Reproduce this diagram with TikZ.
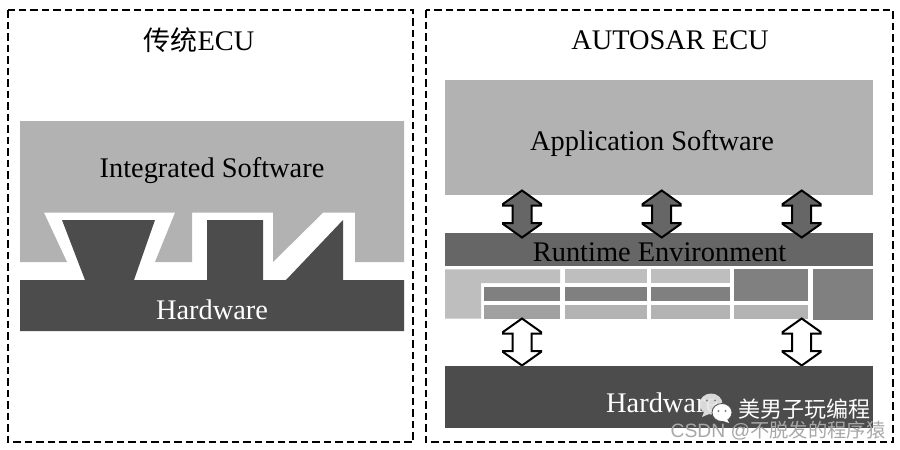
\documentclass[tikz,border=0pt]{standalone}
\usepackage{fontspec}
\setmainfont{Liberation Serif}
\newfontfamily\cjk{Noto Sans CJK SC}
\newfontfamily\wsans{Liberation Sans}
\definecolor{lightg}{HTML}{B2B2B2}
\definecolor{darkg}{HTML}{4C4C4C}
\definecolor{midg}{HTML}{666666}
\definecolor{rowa}{HTML}{BEBEBE}
\definecolor{rowb}{HTML}{808080}
\definecolor{rowc}{HTML}{B3B3B3}
\definecolor{rowd}{HTML}{A0A0A0}
\definecolor{wmk}{HTML}{A8A8A8}
\tikzset{
  x=1pt,y=-1pt,
  panel/.style={draw=black,line width=1.8pt,dash pattern=on 7.5pt off 4pt},
  lbl/.style={inner sep=0pt,font=\fontsize{28.4}{30}\selectfont},
  boxa/.style={fill=rowa,draw=none},
  boxb/.style={fill=rowb,draw=none},
  boxc/.style={fill=rowc,draw=none},
  boxd/.style={fill=rowd,draw=none},
  blockarrow/.style={draw=black,line width=2pt,line join=miter,miter limit=10},
}
\newcommand{\dblarrow}[4]{% x centre, top tip, bottom tip, fill
  \draw[blockarrow,fill=#4] (#1,#2+0.5) -- ++(19,13.5) -- ++(0,1.5) -- ++(-9.5,0)
    -- (#1+9.5,#3-15) -- ++(9.5,0) -- ++(0,1) -- (#1,#3-0.5) -- (#1-19,#3-14) -- ++(0,-1) -- ++(9.5,0)
    -- (#1-9.5,#2+15.5) -- ++(-9.5,0) -- ++(0,-1.5) -- cycle;}
\newcommand{\rbox}[5]{\fill[#5] (#1,#2) rectangle (#3,#4);}
\begin{document}
\begin{tikzpicture}
\useasboundingbox (0,0) rectangle (900,450);
\fill[white] (0,0) rectangle (900,450);
% panels
\draw[panel] (8,10) rectangle (413,442);
\draw[panel] (426,10) rectangle (893,442);
% left
\fill[lightg] (20,121) -- (404,121) -- (404,262) -- (355,262) -- (355,212.7) -- (323,212.7)
  -- (273,262) -- (273,212.7) -- (192,212.7) -- (192,262) -- (155,262) -- (175,212.7)
  -- (44,212.7) -- (67,262) -- (20,262) -- cycle;
\fill[darkg] (20,280) -- (85,280) -- (62,220) -- (155,220) -- (134,280) -- (207,280)
  -- (207,220) -- (263,220) -- (263,280) -- (286,280) -- (343,220) -- (343,280)
  -- (404,280) -- (404,331) -- (20,331) -- cycle;
\node[lbl] (title1) at (199,40.5) {{\cjk\fontsize{27}{30}\selectfont 传统}ECU};
\node[lbl] (sw1) at (212,171) {Integrated Software};
\node[lbl,text=white] (hw1) at (212,309.5) {Hardware};
% right
\node[lbl] (title2) at (670,40) {AUTOSAR ECU};
\fill[lightg] (445,80) rectangle (873,195);
\node[lbl] (app) at (652,144) {Application Software};
\fill[midg] (445,233) rectangle (873,266);
% grid
\fill[rowa] (445,269.3) -- (560,269.3) -- (560,283) -- (481,283) -- (481,318.5) -- (445,318.5) -- cycle;
\rbox{564.7}{269.3}{647}{283}{boxa}
\rbox{651}{269.3}{730}{283}{boxa}
\rbox{733.5}{269.3}{808}{301}{boxb}
\rbox{813}{269.3}{873}{320}{boxb}
\rbox{484}{287.3}{560}{301}{boxb}
\rbox{564.7}{287.3}{647}{301}{boxb}
\rbox{651}{287.3}{730}{301}{boxb}
\rbox{484}{305}{560}{318.5}{boxd}
\rbox{564.7}{305}{647}{318.5}{boxc}
\rbox{651}{305}{730}{318.5}{boxc}
\rbox{733.5}{305}{808}{318.5}{boxc}
% arrows
\dblarrow{522}{190}{238}{midg}
\dblarrow{661.7}{190}{238}{midg}
\dblarrow{801.7}{190}{238}{midg}
\dblarrow{522}{318}{366}{white}
\dblarrow{801.7}{318}{366}{white}
\node[lbl] (rte) at (659.5,252) {Runtime Environment};
% hardware
\fill[darkg] (445,366) rectangle (873,428);
\node[lbl,text=white,anchor=base west] (hw2) at (606,412) {Hardware};
% watermark
\fill[white!90!black,opacity=.92] (711,404) ellipse (11.5 and 10.5);
\fill[white!90!black,opacity=.92] (704,412) -- (702,417) -- (709,414) -- cycle;
\draw[darkg,line width=.8pt,fill=white] (722,412.5) ellipse (10 and 9);
\fill[white] (727,419) -- (729,423) -- (722,420.5) -- cycle;
\fill[darkg!70] (707,400.5) circle (1.2) (715,400.5) circle (1.2) (718.5,411) circle (1.2) (725.5,411) circle (1.2);
\node[inner sep=0pt,text=white,font=\cjk\fontsize{22}{24}\selectfont] (wm1) at (804,409.5) {美男子玩编程};
\node[inner sep=0pt,text=wmk,font=\wsans\fontsize{19.3}{22}\selectfont] (wm2) at (778,431) {CSDN @{\cjk 不脱发的程序猿}};
\end{tikzpicture}
\end{document}
